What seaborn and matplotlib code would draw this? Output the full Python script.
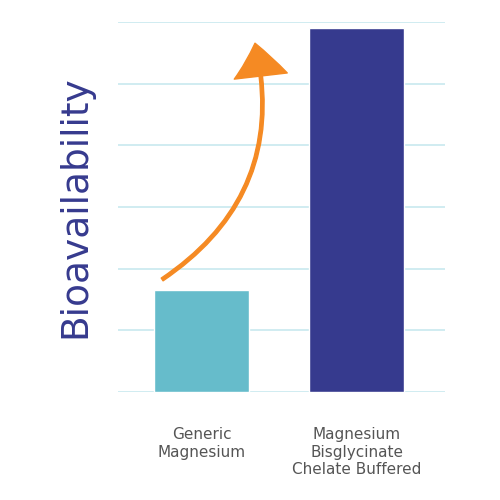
import matplotlib
matplotlib.use("Agg")
import matplotlib.pyplot as plt
import seaborn as sns
from matplotlib.patches import FancyArrowPatch

categories = ["Generic\nMagnesium", "Magnesium\nBisglycinate\nChelate Buffered"]
values = [1.65, 5.9]
colors = ["#66BCCB", "#363A8E"]

sns.set_style("white")
plt.rcParams['font.family'] = ['Montserrat', 'DejaVu Sans'] if False else ['DejaVu Sans']

fig = plt.figure(figsize=(5, 5), dpi=100)
ax = fig.add_axes([0.236, 0.216, 0.654, 0.74])
sns.barplot(x=categories, y=values, hue=categories, palette=colors, width=0.61,
            legend=False, ax=ax, saturation=1, zorder=3)
ax.set_ylim(0, 6)
ax.set_xlim(-0.54, 1.57)
ax.set_yticks(range(7))
ax.yaxis.grid(True, color="#CDEBF0", lw=1.3, zorder=0)
ax.set_axisbelow(True)
ax.tick_params(axis='y', left=False, labelleft=False)
ax.tick_params(axis='x', bottom=False, labelsize=11, labelcolor="#555555", pad=22)
for s in ax.spines.values():
    s.set_visible(False)
ax.set_ylabel("Bioavailability", fontsize=27, color="#363A8E", labelpad=18)

arrow = FancyArrowPatch((-0.27, 1.8), (0.34, 5.7), connectionstyle="arc3,rad=0.35",
                        arrowstyle="simple,head_width=3.2,head_length=2,tail_width=0.2",
                        mutation_scale=12, color="#F58A23", zorder=4)
ax.add_patch(arrow)

fig.savefig("out.png", dpi=100)
